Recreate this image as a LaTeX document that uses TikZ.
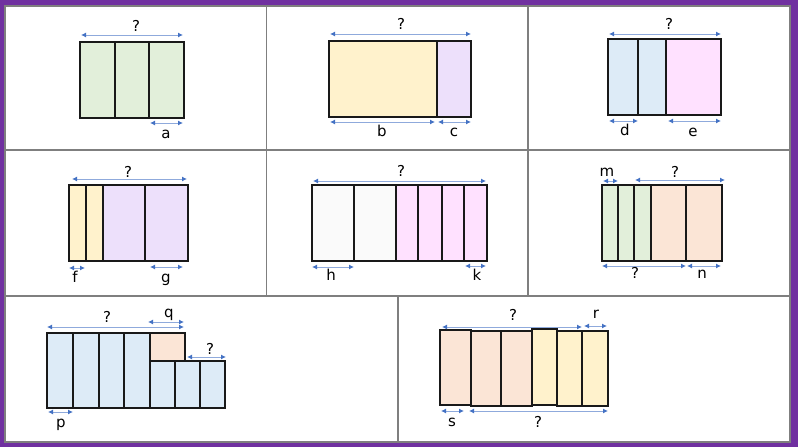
\documentclass[tikz,border=0pt]{standalone}
\usepackage{fontspec}
\setmainfont{DejaVu Sans}
\usetikzlibrary{arrows.meta}
\definecolor{frameviolet}{HTML}{7030A0}
\definecolor{gridgray}{HTML}{7F7F7F}
\definecolor{dimblue}{HTML}{4472C4}
\definecolor{dimline}{HTML}{8FAADC}
\definecolor{cgreen}{HTML}{E2EFDA}
\definecolor{cyellow}{HTML}{FFF2CC}
\definecolor{clilac}{HTML}{EDE0FB}
\definecolor{cblue}{HTML}{DDEBF7}
\definecolor{cpink}{HTML}{FFE1FF}
\definecolor{cpeach}{HTML}{FBE5D6}
\definecolor{cwhite}{HTML}{FAFAFA}

\begin{document}
\begin{tikzpicture}[x=1pt,y=-1pt,
		cell/.style={draw=black!90, line width=1.4pt},
		rule/.style={draw=gridgray, line width=1.2pt},
		dim/.style={draw=dimline, line width=1pt,
			{Latex[length=5pt,width=5pt,color=dimblue]}-{Latex[length=5pt,width=5pt,color=dimblue]}},
		lbl/.style={font=\fontsize{15}{17}\selectfont, inner sep=0pt}]
		% frame and table
		\fill[frameviolet] (0,0) rectangle (798,447);
		\fill[white] (5,6) rectangle (790,442);
		\draw[rule] (5,6) rectangle (790,442);
		\draw[rule] (5,150) -- (790,150);
		\draw[rule] (5,296) -- (790,296);
		\draw[rule] (266.5,6) -- (266.5,296);
		\draw[rule] (528,6) -- (528,296);
		\draw[rule] (398,296) -- (398,442);
		% row 1, panel 1
		\draw[cell,fill=cgreen] (80,42) rectangle (115,118);
		\draw[cell,fill=cgreen] (115,42) rectangle (149,118);
		\draw[cell,fill=cgreen] (149,42) rectangle (184,118);
		\draw[dim] (81,35) -- (183,35);
		\node[lbl] (ask1) at (136,26) {?};
		\draw[dim] (150,123) -- (183,123);
		\node[lbl] (a) at (166,134) {a};
		% row 1, panel 2
		\draw[cell,fill=cyellow] (329,41) rectangle (437,117);
		\draw[cell,fill=clilac] (437,41) rectangle (471,117);
		\draw[dim] (330,34) -- (471,34);
		\node[lbl] (ask2) at (401,24) {?};
		\draw[dim] (330,122) -- (435,122);
		\node[lbl] (b) at (382,131) {b};
		\draw[dim] (438,122) -- (471,122);
		\node[lbl] (c) at (454,132) {c};
		% row 1, panel 3
		\draw[cell,fill=cblue] (608,39) rectangle (638,115);
		\draw[cell,fill=cblue] (638,39) rectangle (666,115);
		\draw[cell,fill=cpink] (666,39) rectangle (721,115);
		\draw[dim] (609,34) -- (721,34);
		\node[lbl] (ask3) at (669,24) {?};
		\draw[dim] (609,121) -- (638,121);
		\node[lbl] (d) at (625,130) {d};
		\draw[dim] (668,121) -- (721,121);
		\node[lbl] (e) at (693,132) {e};
		% row 2, panel 4
		\draw[cell,fill=cyellow] (69,185) rectangle (86,261);
		\draw[cell,fill=cyellow] (86,185) rectangle (103,261);
		\draw[cell,fill=clilac] (103,185) rectangle (145,261);
		\draw[cell,fill=clilac] (145,185) rectangle (188,261);
		\draw[dim] (72,179) -- (187,179);
		\node[lbl] (ask4) at (128,172) {?};
		\draw[dim] (69,268) -- (85,268);
		\node[lbl] (f) at (75,277) {f};
		\draw[dim] (150,267) -- (183,267);
		\node[lbl] (g) at (166,280) {g};
		% row 2, panel 5
		\draw[cell,fill=cwhite] (312,185) rectangle (354,261);
		\draw[cell,fill=cwhite] (354,185) rectangle (396,261);
		\draw[cell,fill=cpink] (396,185) rectangle (418,261);
		\draw[cell,fill=cpink] (418,185) rectangle (442,261);
		\draw[cell,fill=cpink] (442,185) rectangle (464,261);
		\draw[cell,fill=cpink] (464,185) rectangle (487,261);
		\draw[dim] (313,181) -- (486,181);
		\node[lbl] (ask5) at (401,171) {?};
		\draw[dim] (312,267) -- (354,267);
		\node[lbl] (h) at (331,275) {h};
		\draw[dim] (465,266) -- (486,266);
		\node[lbl] (k) at (477,275) {k};
		% row 2, panel 6
		\draw[cell,fill=cgreen] (602,185) rectangle (618,261);
		\draw[cell,fill=cgreen] (618,185) rectangle (634,261);
		\draw[cell,fill=cgreen] (634,185) rectangle (651,261);
		\draw[cell,fill=cpeach] (651,185) rectangle (686,261);
		\draw[cell,fill=cpeach] (686,185) rectangle (722,261);
		\draw[dim] (603,181) -- (618,181);
		\node[lbl] (m) at (607,172) {m};
		\draw[dim] (635,180) -- (725,180);
		\node[lbl] (ask6) at (675,172) {?};
		\draw[dim] (602,266) -- (686,266);
		\node[lbl] (ask7) at (635,273) {?};
		\draw[dim] (687,266) -- (721,266);
		\node[lbl] (n) at (702,274) {n};
		% row 3, panel 7
		\draw[cell,fill=cblue] (47,333) rectangle (73,408);
		\draw[cell,fill=cblue] (73,333) rectangle (99,408);
		\draw[cell,fill=cblue] (99,333) rectangle (124,408);
		\draw[cell,fill=cblue] (124,333) rectangle (150,408);
		\draw[cell,fill=cpeach] (150,333) rectangle (185,361);
		\draw[cell,fill=cblue] (150,361) rectangle (175,408);
		\draw[cell,fill=cblue] (175,361) rectangle (200,408);
		\draw[cell,fill=cblue] (200,361) rectangle (225,408);
		\draw[dim] (47,327) -- (184,327);
		\node[lbl] (ask8) at (107,317) {?};
		\draw[dim] (148,322) -- (184,322);
		\node[lbl] (q) at (169,315) {q};
		\draw[dim] (187,357) -- (226,357);
		\node[lbl] (ask9) at (210,349) {?};
		\draw[dim] (48,412) -- (73,412);
		\node[lbl] (p) at (61,425) {p};
		% row 3, panel 8
		\draw[cell,fill=cpeach] (440,330) rectangle (471,405);
		\draw[cell,fill=cpeach] (471,331) rectangle (501,406);
		\draw[cell,fill=cpeach] (501,331) rectangle (532,406);
		\draw[cell,fill=cyellow] (532,329) rectangle (557,405);
		\draw[cell,fill=cyellow] (557,331) rectangle (582,406);
		\draw[cell,fill=cyellow] (582,331) rectangle (608,406);
		\draw[dim] (442,327) -- (582,327);
		\node[lbl] (ask10) at (513,315) {?};
		\draw[dim] (584,326) -- (607,326);
		\node[lbl] (r) at (596,314) {r};
		\draw[dim] (441,411) -- (464,411);
		\node[lbl] (s) at (452,422) {s};
		\draw[dim] (469,411) -- (608,411);
		\node[lbl] (ask11) at (538,422) {?};
	\end{tikzpicture}
\end{document}
